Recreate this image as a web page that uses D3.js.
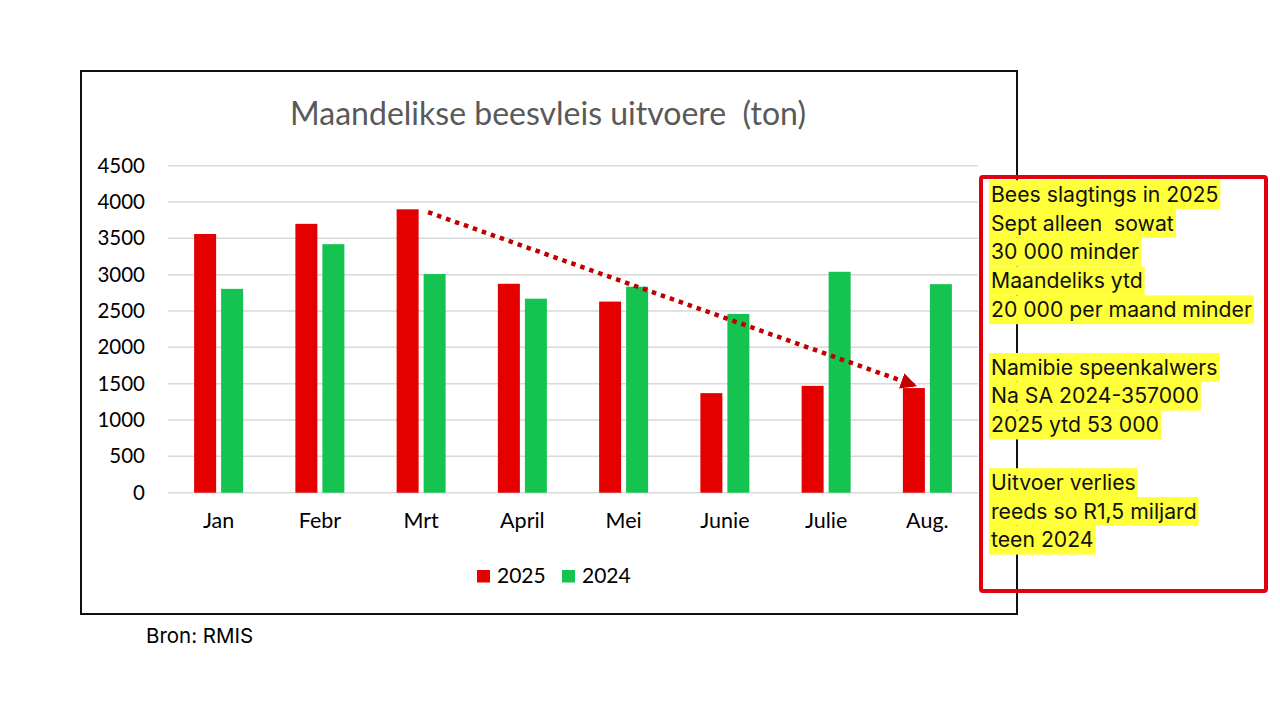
<!DOCTYPE html>
<html>
<head>
<meta charset="utf-8">
<script src="https://cdn.jsdelivr.net/npm/d3@7"></script>
<style>
  html, body { margin: 0; padding: 0; background: #fff; }
  svg { display: block; }
</style>
</head>
<body>
<div id="viz-body"></div>
<script>
// chart data
const months = ["Jan", "Febr", "Mrt", "April", "Mei", "Junie", "Julie", "Aug."];
const series = ["2025", "2024"];
const values2025 = [3560, 3700, 3900, 2875, 2630, 1370, 1470, 1440];
const values2024 = [2805, 3420, 3010, 2670, 2835, 2460, 3040, 2870];
const yTicks = [0, 500, 1000, 1500, 2000, 2500, 3000, 3500, 4000, 4500];
const chartTitle = "Maandelikse beesvleis uitvoere\u00a0\u00a0(ton)";
const sourceText = "Bron: RMIS";
// trend arrow: from March to August (2025 series)
const arrowFrom = { month: "Mrt", value: 3860 };
const arrowTo = { month: "Aug.", value: 1480 };
const noteLines = [
    "Bees slagtings in 2025",
    "Sept alleen\u00a0\u00a0sowat",
    "30 000 minder",
    "Maandeliks ytd",
    "20 000 per maand minder",
    "",
    "Namibie speenkalwers",
    "Na SA 2024-357000",
    "2025 ytd 53 000",
    "",
    "Uitvoer verlies",
    "reeds so R1,5 miljard",
    "teen 2024"
];

const width = 1280, height = 720;
const colors = { "2025": "#e50000", "2024": "#14c350" };

const svg = d3.select("#viz-body")
    .append("svg")
    .attr("width", width)
    .attr("height", height)
    .attr("viewBox", [0, 0, width, height]);

// chart frame
svg.append("rect")
    .attr("x", 81).attr("y", 71)
    .attr("width", 936).attr("height", 543)
    .attr("fill", "#fff")
    .attr("stroke", "#111")
    .attr("stroke-width", 2);

// Set the ranges
const plot = { left: 168, right: 978, top: 165.7, bottom: 492.7 };
const x0 = d3.scaleBand().domain(months).range([plot.left, plot.right]).padding(0);
const groupW = 49;
const x1 = d3.scaleBand().domain(series)
    .range([x0.bandwidth() / 2 - groupW / 2, x0.bandwidth() / 2 + groupW / 2])
    .paddingInner(5 / 27);
const y = d3.scaleLinear().domain([0, 4500]).range([plot.bottom, plot.top]);

// gridlines
svg.append("g")
    .selectAll("line")
    .data(yTicks)
    .join("line")
    .attr("x1", plot.left).attr("x2", plot.right)
    .attr("y1", d => y(d)).attr("y2", d => y(d))
    .attr("stroke", "#d9d9d9")
    .attr("stroke-width", 1.5);

// Y axis labels
const yAxis = svg.append("g")
    .attr("transform", "translate(145,0)")
    .call(d3.axisLeft(y).tickValues(yTicks).tickSize(0).tickPadding(0).tickFormat(d3.format("d")));
yAxis.select(".domain").remove();
yAxis.selectAll("text")
    .attr("font-family", "Lato, sans-serif")
    .attr("font-size", 20.5)
    .attr("fill", "#000");

// X axis labels
const xAxis = svg.append("g")
    .attr("transform", "translate(0," + plot.bottom + ")")
    .call(d3.axisBottom(x0).tickSize(0).tickPadding(20));
xAxis.select(".domain").remove();
xAxis.selectAll("text")
    .attr("font-family", "Lato, sans-serif")
    .attr("font-size", 21.5)
    .attr("fill", "#000");

// bars
const rows = months.map((m, i) => ({ month: m, "2025": values2025[i], "2024": values2024[i] }));
svg.append("g")
    .selectAll("g")
    .data(rows)
    .join("g")
    .attr("transform", d => "translate(" + x0(d.month) + ",0)")
    .selectAll("rect")
    .data(d => series.map(s => ({ key: s, value: d[s] })))
    .join("rect")
    .attr("x", d => x1(d.key))
    .attr("y", d => y(d.value))
    .attr("width", x1.bandwidth())
    .attr("height", d => y(0) - y(d.value))
    .attr("fill", d => colors[d.key]);

// dotted trend arrow
svg.append("defs").append("marker")
    .attr("id", "arrowhead")
    .attr("viewBox", "0 0 10 10")
    .attr("refX", 8).attr("refY", 5)
    .attr("markerWidth", 3.6).attr("markerHeight", 3.6)
    .attr("markerUnits", "strokeWidth")
    .attr("orient", "auto")
    .append("path")
    .attr("d", "M0,0 L10,5 L0,10 Z")
    .attr("fill", "#c00000");

svg.append("line")
    .attr("x1", x0(arrowFrom.month) + x0.bandwidth() / 2 + 7)
    .attr("y1", y(arrowFrom.value))
    .attr("x2", x0(arrowTo.month) + x1("2025") + x1.bandwidth() / 2)
    .attr("y2", y(arrowTo.value))
    .attr("stroke", "#c00000")
    .attr("stroke-width", 4.5)
    .attr("stroke-dasharray", "4.5,5")
    .attr("marker-end", "url(#arrowhead)");

// title
svg.append("text")
    .attr("x", 548).attr("y", 125)
    .attr("text-anchor", "middle")
    .attr("font-family", "Lato, sans-serif")
    .attr("font-size", 32)
    .attr("fill", "#595959")
    .text(chartTitle);

// legend
const legend = svg.append("g")
    .selectAll("g")
    .data(series)
    .join("g")
    .attr("transform", (d, i) => "translate(" + (477 + i * 85) + ",570)");
legend.append("rect")
    .attr("width", 13).attr("height", 12.5)
    .attr("fill", d => colors[d]);
legend.append("text")
    .attr("x", 20).attr("y", 12.5)
    .attr("font-family", "Lato, sans-serif")
    .attr("font-size", 21)
    .attr("fill", "#000")
    .text(d => d);

// source
svg.append("text")
    .attr("x", 146).attr("y", 643)
    .attr("font-family", "Inter, sans-serif")
    .attr("font-size", 20.5)
    .attr("fill", "#000")
    .text(sourceText);

// annotation with highlighted lines
const note = svg.append("g");
const lineH = 28.8, firstBase = 201.7, noteX = 991;
const noteRows = note.selectAll("g")
    .data(noteLines.map((t, i) => ({ t, i })).filter(d => d.t !== ""))
    .join("g");
const noteText = noteRows.append("text")
    .attr("x", noteX)
    .attr("y", d => firstBase + d.i * lineH)
    .attr("font-family", "Inter, sans-serif")
    .attr("font-size", 21.2)
    .attr("fill", "#111")
    .text(d => d.t);
noteText.each(function (d) { d.w = this.getComputedTextLength(); });
noteRows.insert("rect", "text")
    .attr("x", noteX - 2)
    .attr("y", d => firstBase + d.i * lineH - 21.5)
    .attr("width", d => d.w + 4)
    .attr("height", lineH)
    .attr("fill", "#ffff3a");

note.append("rect")
    .attr("x", 981).attr("y", 177)
    .attr("width", 285).attr("height", 414)
    .attr("rx", 2)
    .attr("fill", "none")
    .attr("stroke", "#e00010")
    .attr("stroke-width", 4);
</script>
</body>
</html>
